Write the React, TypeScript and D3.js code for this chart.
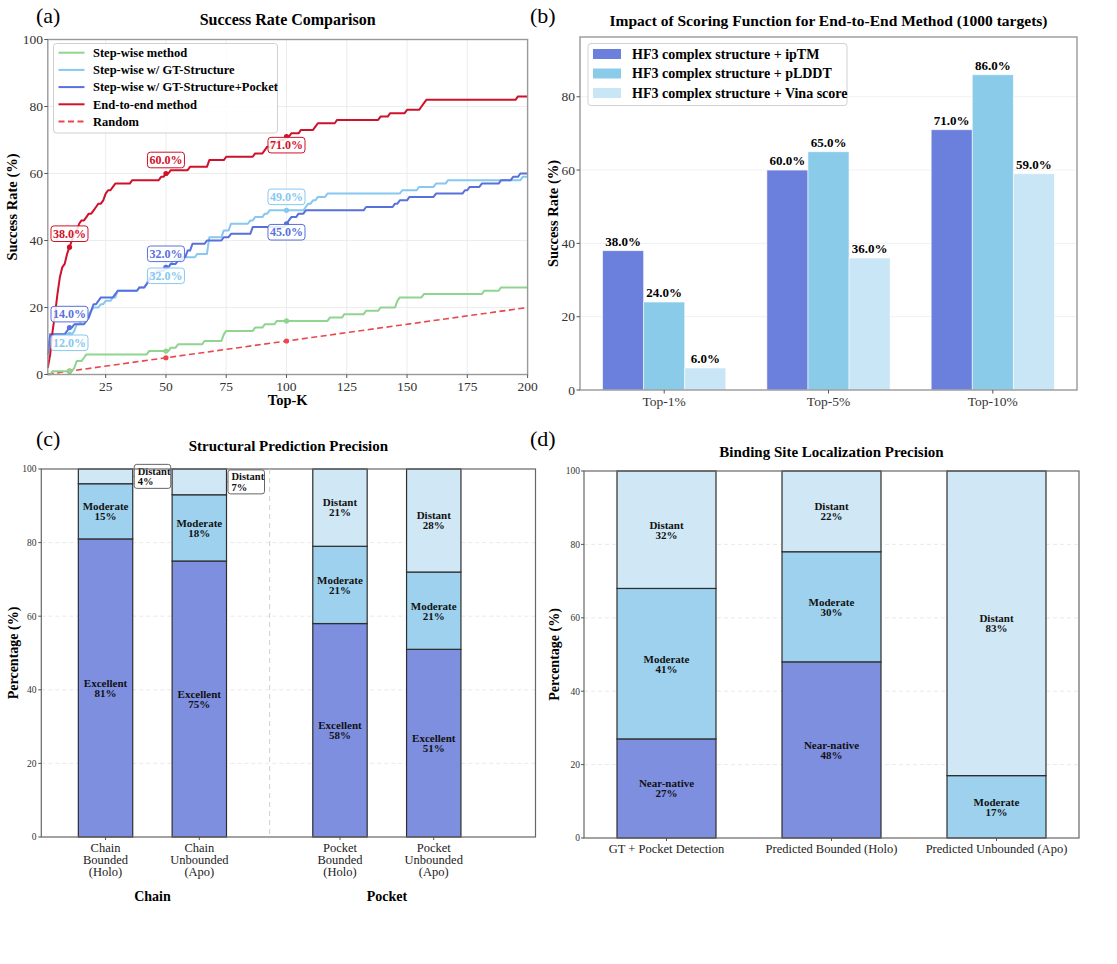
import * as d3 from "d3";
import React from "react";

const FONT = "'Liberation Serif', 'Times New Roman', serif";

type Step = [number, number];

// ---- (a) success rate vs Top-K, change points [K, %] ----
const stepwiseSteps: Step[] = [
  [1, 0], [3, 1], [12, 2], [13, 4], [16, 5], [17, 6], [43, 7], [52, 8], [55, 9],
  [66, 10], [74, 12], [75, 13], [87, 14], [91, 15], [96, 16], [118, 17], [124, 18],
  [133, 19], [139, 20], [146, 22], [147, 23], [157, 24], [182, 25], [189, 26], [200, 26],
];
const gtStructureSteps: Step[] = [
  [1, 5], [2, 12], [12, 13], [13, 15], [15, 16], [18, 18], [19, 19], [20, 20], [23, 21],
  [25, 22], [28, 23], [30, 25], [39, 26], [42, 27], [43, 29], [46, 31], [50, 32], [52, 33],
  [53, 34], [55, 35], [63, 36], [68, 41], [74, 43], [77, 45], [85, 46], [87, 47], [91, 48],
  [93, 49], [108, 50], [109, 51], [111, 52], [113, 53], [117, 54], [148, 55], [155, 56],
  [162, 57], [167, 58], [198, 59], [200, 59],
];
const gtPocketSteps: Step[] = [
  [1, 6], [2, 12], [9, 13], [10, 14], [12, 15], [17, 16], [18, 17], [19, 19], [20, 21],
  [22, 22], [23, 23], [29, 24], [30, 25], [39, 26], [42, 27], [43, 28], [44, 30], [47, 31],
  [50, 32], [52, 33], [55, 34], [57, 35], [59, 37], [61, 39], [67, 40], [74, 41], [77, 42],
  [86, 44], [100, 45], [101, 46], [102, 47], [105, 48], [108, 49], [133, 50], [145, 51],
  [147, 52], [151, 53], [162, 54], [174, 55], [176, 56], [181, 57], [189, 58], [194, 59],
  [197, 60], [200, 60],
];
const endToEndSteps: Step[] = [
  [1, 2], [2, 6], [3, 13], [4, 18], [5, 24], [6, 29], [7, 32], [8, 33], [9, 36], [10, 38],
  [11, 40], [12, 42], [13, 43], [14, 45], [15, 46], [17, 47], [18, 48], [20, 49], [21, 50],
  [22, 51], [24, 52], [25, 54], [26, 55], [28, 56], [29, 57], [36, 58], [48, 59], [50, 60],
  [52, 61], [60, 62], [68, 64], [75, 65], [87, 66], [91, 67], [92, 68], [95, 69], [97, 70],
  [100, 71], [102, 72], [106, 73], [112, 74], [113, 75], [121, 76], [139, 77], [143, 78],
  [150, 79], [156, 80], [157, 81], [158, 82], [196, 83], [200, 83],
];
const randomK = [1, 10, 50, 100, 200];
const randomRate = [0.1, 1, 5, 10, 20];
const markedK = [10, 50, 100];
const topKTicks = [25, 50, 75, 100, 125, 150, 175, 200];

// ---- (b) scoring function ----
const scoreGroups = ["Top-1%", "Top-5%", "Top-10%"];
const scoreNames = [
  "HF3 complex structure + ipTM",
  "HF3 complex structure + pLDDT",
  "HF3 complex structure + Vina score",
];
const iptmRate = [38, 60, 71];
const plddtRate = [24, 65, 86];
const vinaRate = [6, 36, 59];

// ---- (c) structural prediction ----
const structCats = ["Chain\nBounded\n(Holo)", "Chain\nUnbounded\n(Apo)", "Pocket\nBounded\n(Holo)", "Pocket\nUnbounded\n(Apo)"];
const structGroups = ["Chain", "Pocket"];
const structLevels = ["Excellent", "Moderate", "Distant"];
const structExcellent = [81, 75, 58, 51];
const structModerate = [15, 18, 21, 21];
const structDistant = [4, 7, 21, 28];

// ---- (d) binding site localization ----
const siteCats = ["GT + Pocket Detection", "Predicted Bounded (Holo)", "Predicted Unbounded (Apo)"];
const siteLevels = ["Near-native", "Moderate", "Distant"];
const siteNear = [27, 48, 0];
const siteModerate = [41, 30, 17];
const siteDistant = [32, 22, 83];

const SEG_COLORS = ["#7f8fe0", "#9dd1ee", "#d0e7f5"];

function expandSteps(steps: Step[]): Step[] {
  const pts: Step[] = [steps[0]];
  for (let i = 1; i < steps.length; i++) {
    const [k, v] = steps[i];
    const [pk, pv] = steps[i - 1];
    if (v !== pv && k - 1 > pk) pts.push([k - 1, pv]);
    pts.push([k, v]);
  }
  return pts;
}

function valueAt(steps: Step[], k: number) {
  let v = steps[0][1];
  for (const [sk, sv] of steps) if (sk <= k) v = sv;
  return v;
}

function PanelA() {
  const x = d3.scaleLinear().domain([1, 200]).range([47.8, 527.6]);
  const y = d3.scaleLinear().domain([0, 100]).range([374.5, 39.5]);
  const line = d3.line<Step>().x((d) => x(d[0])).y((d) => y(d[1]));

  const series = [
    { name: "Step-wise method", steps: stepwiseSteps, color: "#8fd48f", side: [0, 0, 0] },
    { name: "Step-wise w/ GT-Structure", steps: gtStructureSteps, color: "#86c8ef", side: [1, 1, -1] },
    { name: "Step-wise w/ GT-Structure+Pocket", steps: gtPocketSteps, color: "#5870dc", side: [-1, -1, 1] },
    { name: "End-to-end method", steps: endToEndSteps, color: "#d0112b", side: [-1, -1, 1] },
  ];
  const randomPts: Step[] = randomK.map((k, i) => [k, randomRate[i]]);
  const randomColor = "#e8474c";

  return (
    <g fontFamily={FONT}>
      <text x={36} y={23} fontSize={22}>(a)</text>
      <text x={287.7} y={25} fontSize={16} fontWeight="bold" textAnchor="middle">Success Rate Comparison</text>
      {y.ticks(5).map((t) => (
        <line key={"gy" + t} x1={x(1)} x2={x(200)} y1={y(t)} y2={y(t)} stroke="#e8e8e8" strokeWidth={0.8} />
      ))}
      {topKTicks.map((t) => (
        <line key={"gx" + t} x1={x(t)} x2={x(t)} y1={y(0)} y2={y(100)} stroke="#e8e8e8" strokeWidth={0.8} />
      ))}
      <path d={line(randomPts) || ""} fill="none" stroke={randomColor} strokeWidth={1.6} strokeDasharray="6,3.5" />
      {series.map((s) => (
        <path key={s.name} d={line(expandSteps(s.steps)) || ""} fill="none" stroke={s.color} strokeWidth={2} strokeLinejoin="round" />
      ))}
      {markedK.map((k, i) => (
        <circle key={"rd" + k} cx={x(k)} cy={y(randomRate[randomK.indexOf(k)])} r={2.6} fill={randomColor} />
      ))}
      {series.map((s) =>
        markedK.map((k) => (
          <circle key={s.name + k} cx={x(k)} cy={y(valueAt(s.steps, k))} r={2.6} fill={s.color} />
        ))
      )}
      {series.map((s) =>
        markedK.map((k, i) => {
          if (!s.side[i]) return null;
          const v = valueAt(s.steps, k);
          const cy = y(v) + (s.side[i] < 0 ? -13.5 : 8.5);
          return (
            <g key={"lb" + s.name + k}>
              <rect x={x(k) - 18.5} y={cy - 7.8} width={37} height={15.6} rx={3} fill="#fff" fillOpacity={0.85} stroke={s.color} strokeWidth={1} />
              <text x={x(k)} y={cy} dy="0.35em" fontSize={12} fontWeight="bold" fill={s.color} textAnchor="middle">
                {v.toFixed(1)}%
              </text>
            </g>
          );
        })
      )}
      <rect x={x(1)} y={y(100)} width={x(200) - x(1)} height={y(0) - y(100)} fill="none" stroke="#999" strokeWidth={1.4} />
      {topKTicks.map((t) => (
        <g key={"tx" + t}>
          <line x1={x(t)} x2={x(t)} y1={y(0)} y2={y(0) + 3.5} stroke="#555" />
          <text x={x(t)} y={391} fontSize={13.5} textAnchor="middle" fill="#333">{t}</text>
        </g>
      ))}
      {y.ticks(5).map((t) => (
        <g key={"ty" + t}>
          <line x1={x(1) - 3.5} x2={x(1)} y1={y(t)} y2={y(t)} stroke="#555" />
          <text x={43} y={y(t)} dy="0.35em" fontSize={13.5} textAnchor="end" fill="#333">{t}</text>
        </g>
      ))}
      <text x={287.7} y={405} fontSize={14.5} fontWeight="bold" textAnchor="middle">Top-K</text>
      <text transform={`translate(17,${(y(0) + y(100)) / 2}) rotate(-90)`} fontSize={14.5} fontWeight="bold" textAnchor="middle">Success Rate (%)</text>
      <g>
        <rect x={53.5} y={43.5} width={224} height={89.5} rx={3} fill="#fff" fillOpacity={0.85} stroke="#d0d0d0" />
        {[...series.map((s) => ({ name: s.name, color: s.color, dash: "" })), { name: "Random", color: randomColor, dash: "6,3.5" }].map((s, i) => (
          <g key={"lg" + s.name} transform={`translate(0,${52.7 + i * 17.2})`}>
            <line x1={58.5} x2={84.5} y1={0} y2={0} stroke={s.color} strokeWidth={2} strokeDasharray={s.dash} />
            <text x={93} y={0} dy="0.35em" fontSize={12.5} fontWeight="bold">{s.name}</text>
          </g>
        ))}
      </g>
    </g>
  );
}

function PanelB() {
  const x = d3.scaleLinear().domain([-0.5125, 2.5125]).range([580, 1077]);
  const y = d3.scaleLinear().domain([0, 96.3]).range([390, 37]);
  const bw = 0.25;
  const rates = [iptmRate, plddtRate, vinaRate];
  const colors = ["#6b7fdc", "#8acbe9", "#c9e6f6"];
  return (
    <g fontFamily={FONT}>
      <text x={530} y={23} fontSize={22}>(b)</text>
      <text x={828.5} y={26} fontSize={15.5} fontWeight="bold" textAnchor="middle">
        Impact of Scoring Function for End-to-End Method (1000 targets)
      </text>
      {[20, 40, 60, 80].map((t) => (
        <line key={"g" + t} x1={580} x2={1077} y1={y(t)} y2={y(t)} stroke="#eeeeee" strokeWidth={0.8} />
      ))}
      {rates.map((r, j) =>
        r.map((v, i) => {
          const x0 = x(i + (j - 1) * bw - bw / 2);
          const w = x(bw) - x(0);
          return (
            <g key={`b${j}-${i}`}>
              <rect x={x0} y={y(v)} width={w} height={y(0) - y(v)} fill={colors[j]} stroke="#ffffff" strokeOpacity={0.7} strokeWidth={0.8} />
              <text x={x0 + w / 2} y={y(v) - 5} fontSize={13} fontWeight="bold" textAnchor="middle">{v.toFixed(1)}%</text>
            </g>
          );
        })
      )}
      <rect x={580} y={37} width={497} height={353} fill="none" stroke="#999" strokeWidth={1.4} />
      {scoreGroups.map((g, i) => (
        <g key={g}>
          <line x1={x(i)} x2={x(i)} y1={390} y2={393.5} stroke="#555" />
          <text x={x(i)} y={406} fontSize={13.5} textAnchor="middle" fill="#333">{g}</text>
        </g>
      ))}
      {[0, 20, 40, 60, 80].map((t) => (
        <g key={"ty" + t}>
          <line x1={576.5} x2={580} y1={y(t)} y2={y(t)} stroke="#555" />
          <text x={575} y={y(t)} dy="0.35em" fontSize={13.5} textAnchor="end" fill="#333">{t}</text>
        </g>
      ))}
      <text transform={`translate(558,${(390 + 37) / 2}) rotate(-90)`} fontSize={14.5} fontWeight="bold" textAnchor="middle">Success Rate (%)</text>
      <rect x={588} y={43.5} width={259} height={62} rx={3} fill="#fff" fillOpacity={0.85} stroke="#d0d0d0" />
      {scoreNames.map((n, i) => (
        <g key={n} transform={`translate(0,${54 + i * 19.5})`}>
          <rect x={593} y={-5} width={28} height={10} fill={colors[i]} />
          <text x={632} y={0} dy="0.35em" fontSize={14} fontWeight="bold">{n}</text>
        </g>
      ))}
    </g>
  );
}

type StackProps = {
  label: string;
  title: string;
  titleX: number;
  titleY: number;
  labelX: number;
  cats: string[];
  levels: string[];
  values: number[][];
  pos: number[];
  xDomain: [number, number];
  xRange: [number, number];
  yRange: [number, number];
  barWidth: number;
  yLabelX: number;
  yTickX: number;
};

function StackPanel(p: StackProps) {
  const x = d3.scaleLinear().domain(p.xDomain).range(p.xRange);
  const y = d3.scaleLinear().domain([0, 100]).range(p.yRange);
  const rows = p.cats.map((c, i) => {
    const r: Record<string, number> = {};
    p.levels.forEach((l, j) => (r[l] = p.values[j][i]));
    return r;
  });
  const stacked = d3.stack<Record<string, number>>().keys(p.levels)(rows);
  const [xl, xr] = p.xRange;
  const [yb, yt] = p.yRange;
  return (
    <g fontFamily={FONT}>
      <text x={p.labelX} y={446} fontSize={22}>{p.label}</text>
      <text x={p.titleX} y={p.titleY} fontSize={15} fontWeight="bold" textAnchor="middle">{p.title}</text>
      {[20, 40, 60, 80].map((t) => (
        <line key={"g" + t} x1={xl} x2={xr} y1={y(t)} y2={y(t)} stroke="#e4e4e4" strokeWidth={0.8} strokeDasharray="4,3" />
      ))}
      {stacked.map((layer, j) =>
        layer.map((seg, i) => {
          const v = seg[1] - seg[0];
          if (v <= 0) return null;
          const x0 = x(p.pos[i] - p.barWidth / 2);
          const w = x(p.barWidth) - x(0);
          const mid = y((seg[0] + seg[1]) / 2);
          const inside = v >= 10;
          return (
            <g key={`s${j}-${i}`}>
              <rect x={x0} y={y(seg[1])} width={w} height={y(seg[0]) - y(seg[1])} fill={SEG_COLORS[j]} stroke="#2e2e2e" strokeWidth={1.2} />
              {inside ? (
                <text fontSize={11} fontWeight="bold" textAnchor="middle" fill="#111">
                  <tspan x={x0 + w / 2} y={mid - 5} dy="0.35em">{p.levels[j]}</tspan>
                  <tspan x={x0 + w / 2} y={mid + 5} dy="0.35em">{v}%</tspan>
                </text>
              ) : (
                <g>
                  <line x1={x0 + w} x2={x0 + w + 2} y1={mid} y2={mid} stroke="#777" />
                  <rect x={x0 + w + 1.5} y={mid - 12} width={36.5} height={24} rx={2.5} fill="#fff" stroke="#555" strokeWidth={0.9} />
                  <text fontSize={10.5} fontWeight="bold" fill="#111">
                    <tspan x={x0 + w + 5} y={mid - 5.5} dy="0.35em">{p.levels[j]}</tspan>
                    <tspan x={x0 + w + 5} y={mid + 5} dy="0.35em">{v}%</tspan>
                  </text>
                </g>
              )}
            </g>
          );
        })
      )}
      <rect x={xl} y={yt} width={xr - xl} height={yb - yt} fill="none" stroke="#666" strokeWidth={1.2} />
      {[0, 20, 40, 60, 80, 100].map((t) => (
        <g key={"ty" + t}>
          <line x1={xl - 3} x2={xl} y1={y(t)} y2={y(t)} stroke="#555" />
          <text x={p.yTickX} y={y(t)} dy="0.35em" fontSize={9.5} textAnchor="end" fill="#333">{t}</text>
        </g>
      ))}
      {p.cats.map((c, i) => (
        <g key={c}>
          <line x1={x(p.pos[i])} x2={x(p.pos[i])} y1={yb} y2={yb + 3} stroke="#555" />
          <text fontSize={12.5} textAnchor="middle" fill="#222">
            {c.split("\n").map((ln, k) => (
              <tspan key={k} x={x(p.pos[i])} y={yb + 15 + k * 12.2}>{ln}</tspan>
            ))}
          </text>
        </g>
      ))}
      <text transform={`translate(${p.yLabelX},${(yb + yt) / 2}) rotate(-90)`} fontSize={14} fontWeight="bold" textAnchor="middle">Percentage (%)</text>
    </g>
  );
}

function PanelC() {
  const pos = structCats.map((_, i) => (i < 2 ? i : i + 0.5));
  const x = d3.scaleLinear().domain([-0.685, 4.585]).range([41.3, 535.5]);
  return (
    <g>
      <StackPanel
        label="(c)"
        title="Structural Prediction Precision"
        titleX={288.4}
        titleY={451}
        labelX={36}
        cats={structCats}
        levels={structLevels}
        values={[structExcellent, structModerate, structDistant]}
        pos={pos}
        xDomain={[-0.685, 4.585]}
        xRange={[41.3, 535.5]}
        yRange={[837, 469]}
        barWidth={0.58}
        yLabelX={18}
        yTickX={36.5}
      />
      <line x1={x(1.75)} x2={x(1.75)} y1={469} y2={837} stroke="#cfcfcf" strokeWidth={1} strokeDasharray="5,4" />
      {structGroups.map((g, i) => (
        <text key={g} x={x(i * 2.5 + 0.5)} y={901} fontFamily={FONT} fontSize={14} fontWeight="bold" textAnchor="middle">{g}</text>
      ))}
    </g>
  );
}

function PanelD() {
  return (
    <StackPanel
      label="(d)"
      title="Binding Site Localization Precision"
      titleX={831.5}
      titleY={457}
      labelX={530}
      cats={siteCats}
      levels={siteLevels}
      values={[siteNear, siteModerate, siteDistant]}
      pos={siteCats.map((_, i) => i)}
      xDomain={[-0.5, 2.5]}
      xRange={[584, 1079]}
      yRange={[838, 471]}
      barWidth={0.6}
      yLabelX={559}
      yTickX={580}
    />
  );
}

export default function App() {
  return (
    <svg width={1117} height={964} style={{ position: "absolute", left: 0, top: 0 }}>
      <rect width={1117} height={964} fill="#fff" />
      <PanelA />
      <PanelB />
      <PanelC />
      <PanelD />
    </svg>
  );
}
